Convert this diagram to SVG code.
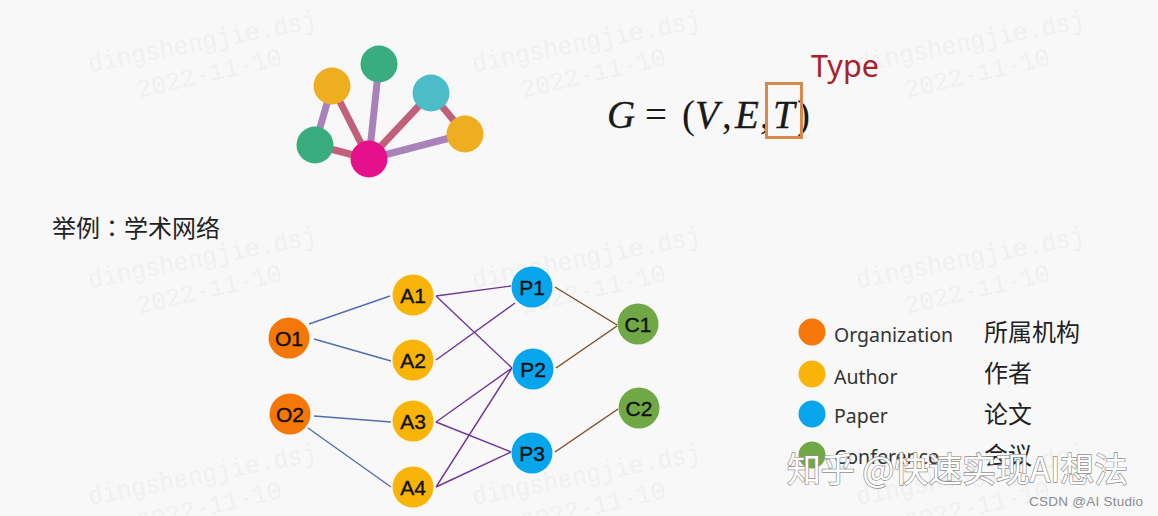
<svg xmlns="http://www.w3.org/2000/svg" xmlns:xlink="http://www.w3.org/1999/xlink" width="1158" height="516" viewBox="0 0 1158 516">
<style>
.wm{font-family:"Liberation Mono",monospace;fill:#f0f0f0}
.w1{font-size:26px}
.w2{font-size:26px}
.lbl{font-family:"Liberation Sans",Arial,sans-serif;font-size:21px;font-weight:500;fill:#111;text-anchor:middle;stroke:#111;stroke-width:.4}
.org{fill:#f57708}.aut{fill:#f8b508}.pap{fill:#07a6ec}.con{fill:#6fa844}
.b{stroke:#4f6fb0;stroke-width:1.4;fill:none}
.p{stroke:#70349a;stroke-width:1.4;fill:none}
.r{stroke:#7d4a22;stroke-width:1.4;fill:none}
.ep{stroke:#a882b8;stroke-width:7;fill:none}
.er{stroke:#c0607a;stroke-width:7;fill:none}
.leg{font-family:"Noto Sans",sans-serif;font-size:19.500px;fill:#333}
.cjk{font-family:"Noto Sans CJK SC","Noto Sans",sans-serif;font-size:24px;fill:#222}
.eq{font-family:"Liberation Serif",serif;font-style:italic;font-size:39px;fill:#1a1a1a;stroke:#1a1a1a;stroke-width:.3}
.eqn{font-family:"Liberation Serif",serif;font-size:39px;fill:#1a1a1a}
</style>
<defs>
<g id="wmark">
<text class="wm w1" transform="translate(90 72) rotate(-11)" textLength="232" lengthAdjust="spacingAndGlyphs">dingshengjie.dsj</text>
<text class="wm w2" transform="translate(139 98) rotate(-13)" textLength="148" lengthAdjust="spacingAndGlyphs">2022-11-10</text>
</g>
</defs>
<rect width="1158" height="516" fill="#f8f8f8"/>
<g id="watermarks">
<use xlink:href="#wmark"/><use xlink:href="#wmark" x="384"/><use xlink:href="#wmark" x="768"/>
<use xlink:href="#wmark" y="216"/><use xlink:href="#wmark" x="384" y="216"/><use xlink:href="#wmark" x="768" y="216"/>
<use xlink:href="#wmark" y="433"/><use xlink:href="#wmark" x="384" y="433"/><use xlink:href="#wmark" x="768" y="433"/>
</g>
<g id="connectors">
<path class="ep" d="M315 145L332 86M379 64L369 159M369 159L465 134"/>
<path class="er" d="M315 145L369 159M332 86L369 159M431 93L369 159M431 93L465 134"/>
<path class="b" d="M309 324L390 296M314 339L391 361M314 416L391 422M308 428L391 487"/>
<path class="p" d="M436 296L511 286M436 296L512 368M436 360L515 303M436 422L512 368M436 422L511 452M436 487L512 368M436 487L511 452"/>
<path class="r" d="M555 287L617 325M556 368L617 326M555 452L618 409"/>
</g>
<g id="icon-n1"><circle cx="315" cy="145" r="18.500" fill="#3aad80"/></g>
<g id="icon-n2"><circle cx="332" cy="86" r="18.500" fill="#efae1f"/></g>
<g id="icon-n3"><circle cx="379" cy="64" r="18.500" fill="#3aad80"/></g>
<g id="icon-n4"><circle cx="431" cy="93" r="18.500" fill="#4cbdc8"/></g>
<g id="icon-n5"><circle cx="465" cy="134" r="18.500" fill="#efae1f"/></g>
<g id="icon-n6"><circle cx="369" cy="159" r="18.500" fill="#e5108c"/></g>
<g id="formula">
<text class="eq" x="607" y="128">G</text>
<text class="eqn" x="645" y="128">=</text>
<text class="eqn" x="682" y="128">(</text>
<text class="eq" x="695" y="128">V</text>
<text class="eqn" x="722" y="128">,</text>
<text class="eq" x="735" y="128">E</text>
<text class="eqn" x="760" y="128">,</text>
<text class="eq" x="773" y="128">T</text>
<text class="eqn" x="797" y="128">)</text>
<rect x="766.500" y="83.500" width="35" height="54" fill="none" stroke="#d98a4a" stroke-width="3"/>
<text x="811" y="77" font-family="Noto Sans,sans-serif" font-size="30.500" fill="#a8222c">Type</text>
</g>
<text class="cjk" x="52" y="237">举例<tspan font-family="Noto Sans CJK TC">：</tspan>学术网络</text>
<g id="O1"><circle class="org" cx="289" cy="338" r="20.500"/><text class="lbl" x="289" y="346">O1</text></g>
<g id="O2"><circle class="org" cx="290" cy="414" r="20.500"/><text class="lbl" x="290" y="422">O2</text></g>
<g id="A1"><circle class="aut" cx="413" cy="295" r="20.500"/><text class="lbl" x="413" y="303">A1</text></g>
<g id="A2"><circle class="aut" cx="413" cy="360" r="20.500"/><text class="lbl" x="413" y="368">A2</text></g>
<g id="A3"><circle class="aut" cx="413" cy="421" r="20.500"/><text class="lbl" x="413" y="429">A3</text></g>
<g id="A4"><circle class="aut" cx="413" cy="487" r="20.500"/><text class="lbl" x="413" y="495">A4</text></g>
<g id="P1"><circle class="pap" cx="532" cy="287" r="20.500"/><text class="lbl" x="532" y="295">P1</text></g>
<g id="P2"><circle class="pap" cx="533" cy="369" r="20.500"/><text class="lbl" x="533" y="377">P2</text></g>
<g id="P3"><circle class="pap" cx="532" cy="453" r="20.500"/><text class="lbl" x="532" y="461">P3</text></g>
<g id="C1"><circle class="con" cx="638" cy="324" r="20.500"/><text class="lbl" x="638" y="332">C1</text></g>
<g id="C2"><circle class="con" cx="639" cy="408" r="20.500"/><text class="lbl" x="639" y="416">C2</text></g>
<g id="legend">
<circle cx="812" cy="332" r="13.500" fill="#f57708"/><text class="leg" x="834" y="342">Organization</text><text class="cjk" x="984" y="341">所属机构</text>
<circle cx="812" cy="374" r="13.500" fill="#f8b508"/><text class="leg" x="834" y="384">Author</text><text class="cjk" x="984" y="382">作者</text>
<circle cx="812" cy="414" r="13.500" fill="#07a6ec"/><text class="leg" x="834" y="423">Paper</text><text class="cjk" x="984" y="423">论文</text>
<circle cx="812" cy="455" r="13.500" fill="#6fa844"/><text class="leg" x="834" y="464">Conference</text><text class="cjk" x="984" y="464">会议</text>
</g>
<g id="site-marks">
<text x="787" y="482" font-family="Noto Sans CJK SC,sans-serif" font-size="34" fill="#fff" stroke="#8f8f8f" stroke-width="1.400" paint-order="stroke" textLength="341">知乎 @快速实现AI想法</text>
<text x="1029" y="506" font-family="Liberation Sans,sans-serif" font-size="13.500" fill="#8c8c8c" textLength="114">CSDN @AI Studio</text>
</g>
</svg>
